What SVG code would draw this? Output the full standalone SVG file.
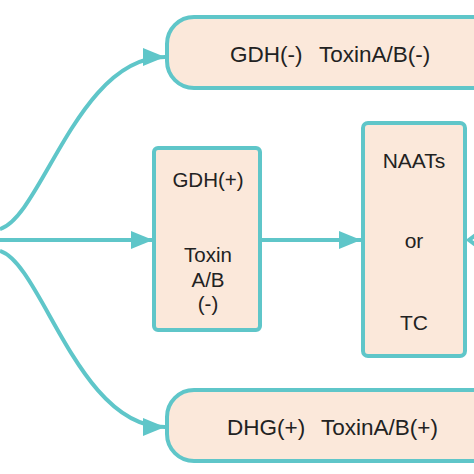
<svg xmlns="http://www.w3.org/2000/svg" width="474" height="474" viewBox="0 0 474 474">
<style>
.box{fill:#fbe8da;stroke:#5fc6c9;stroke-width:4}
.conn{fill:none;stroke:#5fc6c9;stroke-width:4}
.t{font-family:"Liberation Sans",Arial,sans-serif;fill:#222}
</style>
<defs>
<marker id="ah" markerUnits="userSpaceOnUse" markerWidth="24" markerHeight="20" refX="22" refY="9" orient="auto">
<path d="M0,0 L22,9 L0,18 Z" fill="#5fc6c9"/>
</marker>
</defs>
<rect width="474" height="474" fill="#fff"/>
<g id="connectors">
<path class="conn" d="M0,229 C42,216 78,57 165,57" marker-end="url(#ah)"/>
<path class="conn" d="M0,240 L153,240" marker-end="url(#ah)"/>
<path class="conn" d="M0,251 C42,264 78,427 165,427" marker-end="url(#ah)"/>
<path class="conn" d="M262,240 L361,240" marker-end="url(#ah)"/>
<path class="conn" d="M477,234 L469,240 L477,246" stroke-width="3"/>
</g>
<g id="node-top">
<rect class="box" x="167" y="17" width="340" height="71" rx="27"/>
<text class="t" x="230" y="62" font-size="22.5">GDH(-)</text>
<text class="t" x="319" y="62" font-size="22.5">ToxinA/B(-)</text>
</g>
<g id="node-mid">
<rect class="box" x="154" y="148" width="106" height="182" rx="4"/>
<text class="t" x="208" y="187" font-size="20.5" text-anchor="middle">GDH(+)</text>
<text class="t" x="208" y="262" font-size="20.5" text-anchor="middle">Toxin</text>
<text class="t" x="208" y="287" font-size="20.5" text-anchor="middle">A/B</text>
<text class="t" x="208" y="311" font-size="20.5" text-anchor="middle">(-)</text>
</g>
<g id="node-naats">
<rect class="box" x="363" y="123" width="102" height="233" rx="5"/>
<text class="t" x="414" y="168" font-size="21" text-anchor="middle">NAATs</text>
<text class="t" x="414" y="248" font-size="21" text-anchor="middle">or</text>
<text class="t" x="414" y="330" font-size="21" text-anchor="middle">TC</text>
</g>
<g id="node-bottom">
<rect class="box" x="167" y="390" width="340" height="71" rx="27"/>
<text class="t" x="227" y="435" font-size="22.5">DHG(+)</text>
<text class="t" x="321" y="435" font-size="22.5">ToxinA/B(+)</text>
</g>
</svg>
